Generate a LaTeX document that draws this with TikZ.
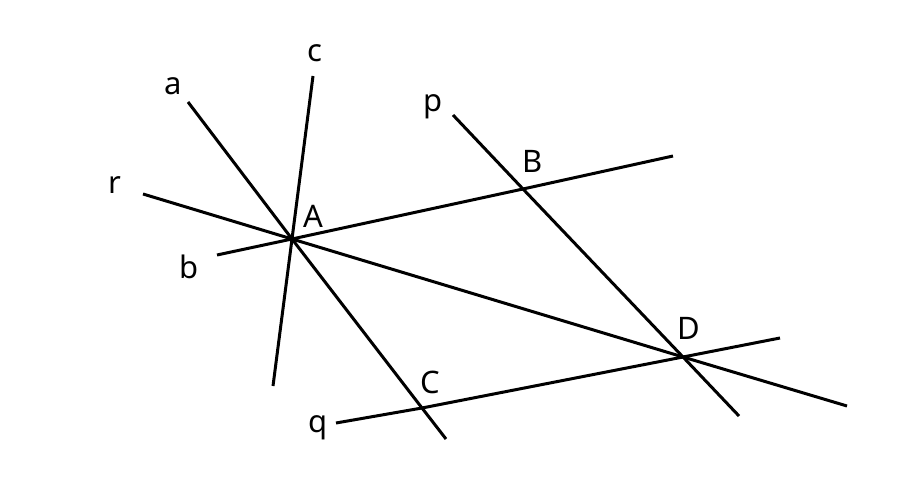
\documentclass[tikz,border=0pt]{standalone}
\usepackage{fontspec}
\setmainfont{Noto Sans}
\tikzset{
  every picture/.style={
    line width=3pt
  },
  lbl/.style={
    anchor=base, inner sep=0pt,
    font=\fontsize{31}{36}\selectfont
  }
}
\begin{document}
\begin{tikzpicture}[x=1pt,y=-1pt]
    \useasboundingbox (0,0) rectangle (917,502);
    % points
    \coordinate (A) at (292,239);
    \coordinate (B) at (523,189);
    \coordinate (C) at (422,408);
    \coordinate (D) at (683,357);
    % line ends
    \coordinate (a1) at (188,102);
    \coordinate (a2) at (446,439);
    \coordinate (c1) at (313,76);
    \coordinate (c2) at (273,386);
    \coordinate (r1) at (143,194);
    \coordinate (r2) at (847,406);
    \coordinate (b1) at (217,255);
    \coordinate (b2) at (673,156);
    \coordinate (p1) at (453,115);
    \coordinate (p2) at (739,416);
    \coordinate (q1) at (336,423);
    \coordinate (q2) at (780,338);
    \draw (a1) -- (A) -- (C) -- (a2);
    \draw (c1) -- (A) -- (c2);
    \draw (r1) -- (A) -- (D) -- (r2);
    \draw (b1) -- (A) -- (B) -- (b2);
    \draw (p1) -- (B) -- (D) -- (p2);
    \draw (q1) -- (C) -- (D) -- (q2);
    % labels
    \node [lbl] (la) at (173,95) {a};
    \node [lbl] (lc) at (315,62) {c};
    \node [lbl] (lp) at (433,112) {p};
    \node [lbl] (lr) at (115,194) {r};
    \node [lbl] (lb) at (189,279) {b};
    \node [lbl] (lq) at (318,432) {q};
    \node [lbl] (lA) at (313,228) {A};
    \node [lbl] (lB) at (533,173) {B};
    \node [lbl] (lC) at (430,393) {C};
    \node [lbl] (lD) at (689,339) {D};
  \end{tikzpicture}
\end{document}
